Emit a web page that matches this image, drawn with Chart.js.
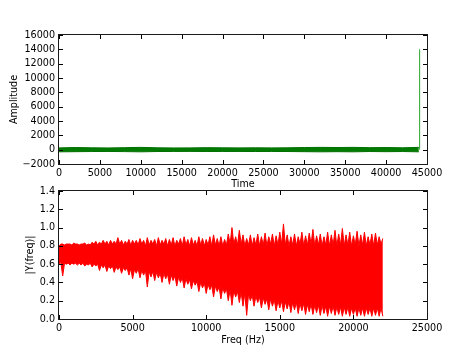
<!DOCTYPE html>
<html>
<head>
<meta charset="utf-8">
<script src="https://cdn.jsdelivr.net/npm/chart.js@4/dist/chart.umd.min.js"></script>
<style>
  html, body { margin: 0; padding: 0; background: #fff; }
  #wrap { position: relative; width: 474px; height: 355px; overflow: hidden; }
  canvas { position: absolute; left: 0; }
  #top { top: 0; }
  #bot { top: 175px; }
</style>
</head>
<body>
<div id="wrap">
  <canvas id="top" width="474" height="190"></canvas>
  <canvas id="bot" width="474" height="180"></canvas>
</div>
<script>
// ---------- Data ----------
// Top: time-domain signal (dense noise band around 0, spike at end)
const timeSamples = [0, 2000, 4000, 6000, 8000, 10000, 12000, 14000, 16000, 18000, 20000, 22000,
  24000, 26000, 28000, 30000, 32000, 34000, 36000, 38000, 40000, 42000, 44000];
const ampHigh = [250, 300, 260, 240, 280, 320, 260, 240, 250, 280, 260, 250,
  260, 250, 260, 300, 320, 300, 320, 280, 300, 260, 320];
const ampLow = [-300, -280, -260, -250, -270, -300, -260, -250, -240, -260, -250, -250,
  -260, -250, -260, -280, -300, -280, -300, -260, -280, -260, -300];
const spikeTime = [44100, 44100];
const spikeAmp = [0, 14000];

// Bottom: magnitude spectrum envelope (upper / lower) of the dense red trace
const freqs = [0, 125, 250, 375, 500, 625, 750, 875, 1000, 1125, 1250, 1375, 1500, 1625, 1750, 1875,
  2000, 2125, 2250, 2375, 2500, 2625, 2750, 2875, 3000, 3125, 3250, 3375, 3500, 3625, 3750, 3875,
  4000, 4125, 4250, 4375, 4500, 4625, 4750, 4875, 5000, 5125, 5250, 5375, 5500, 5625, 5750, 5875,
  6000, 6125, 6250, 6375, 6500, 6625, 6750, 6875, 7000, 7125, 7250, 7375, 7500, 7625, 7750, 7875,
  8000, 8125, 8250, 8375, 8500, 8625, 8750, 8875, 9000, 9125, 9250, 9375, 9500, 9625, 9750, 9875,
  10000, 10125, 10250, 10375, 10500, 10625, 10750, 10875, 11000, 11125, 11250, 11375, 11500, 11625, 11750, 11875,
  12000, 12125, 12250, 12375, 12500, 12625, 12750, 12875, 13000, 13125, 13250, 13375, 13500, 13625, 13750, 13875,
  14000, 14125, 14250, 14375, 14500, 14625, 14750, 14875, 15000, 15125, 15250, 15375, 15500, 15625, 15750, 15875,
  16000, 16125, 16250, 16375, 16500, 16625, 16750, 16875, 17000, 17125, 17250, 17375, 17500, 17625, 17750, 17875,
  18000, 18125, 18250, 18375, 18500, 18625, 18750, 18875, 19000, 19125, 19250, 19375, 19500, 19625, 19750, 19875,
  20000, 20125, 20250, 20375, 20500, 20625, 20750, 20875, 21000, 21125, 21250, 21375, 21500, 21625, 21750, 21875,
  22000];
const magUpper = [0.80, 0.82, 0.82, 0.81, 0.82, 0.82, 0.82, 0.81, 0.83, 0.82, 0.82, 0.81, 0.82, 0.82, 0.83, 0.81,
  0.82, 0.81, 0.84, 0.82, 0.85, 0.81, 0.84, 0.82, 0.86, 0.82, 0.85, 0.81, 0.86, 0.82, 0.85, 0.82,
  0.89, 0.82, 0.86, 0.81, 0.85, 0.82, 0.87, 0.81, 0.86, 0.82, 0.86, 0.81, 0.88, 0.82, 0.86, 0.80,
  0.89, 0.81, 0.86, 0.82, 0.87, 0.80, 0.89, 0.81, 0.86, 0.82, 0.88, 0.80, 0.87, 0.81, 0.89, 0.80,
  0.86, 0.82, 0.88, 0.80, 0.90, 0.81, 0.87, 0.80, 0.89, 0.81, 0.86, 0.80, 0.90, 0.81, 0.88, 0.80,
  0.87, 0.81, 0.90, 0.80, 0.92, 0.81, 0.88, 0.80, 0.90, 0.80, 0.87, 0.81, 0.93, 0.82, 1.00, 0.82,
  0.90, 0.81, 0.97, 0.82, 0.92, 0.80, 0.88, 0.81, 0.92, 0.80, 0.89, 0.81, 0.93, 0.80, 0.90, 0.81,
  0.94, 0.80, 0.90, 0.82, 0.93, 0.80, 0.91, 0.81, 0.95, 0.82, 1.04, 0.81, 0.92, 0.80, 0.90, 0.81,
  0.93, 0.80, 0.90, 0.82, 0.95, 0.80, 0.91, 0.81, 0.94, 0.82, 0.98, 0.80, 0.91, 0.81, 0.93, 0.80,
  0.90, 0.81, 0.95, 0.80, 0.92, 0.81, 0.97, 0.80, 0.93, 0.81, 0.99, 0.80, 0.92, 0.81, 0.95, 0.80,
  0.91, 0.81, 0.96, 0.80, 0.92, 0.81, 0.95, 0.80, 0.90, 0.81, 0.93, 0.80, 0.94, 0.81, 0.90, 0.82,
  0.88];
const magLower = [0.60, 0.62, 0.47, 0.61, 0.60, 0.61, 0.59, 0.61, 0.60, 0.61, 0.59, 0.61, 0.59, 0.61, 0.58, 0.60,
  0.59, 0.61, 0.57, 0.60, 0.58, 0.60, 0.53, 0.59, 0.56, 0.59, 0.52, 0.58, 0.55, 0.58, 0.51, 0.57,
  0.54, 0.57, 0.50, 0.56, 0.53, 0.56, 0.48, 0.55, 0.44, 0.54, 0.50, 0.55, 0.45, 0.53, 0.48, 0.53,
  0.35, 0.52, 0.46, 0.52, 0.42, 0.51, 0.45, 0.50, 0.40, 0.50, 0.44, 0.49, 0.38, 0.48, 0.42, 0.47,
  0.36, 0.46, 0.40, 0.45, 0.34, 0.44, 0.38, 0.43, 0.33, 0.42, 0.37, 0.41, 0.30, 0.40, 0.34, 0.39,
  0.28, 0.38, 0.32, 0.37, 0.24, 0.36, 0.30, 0.35, 0.22, 0.34, 0.28, 0.33, 0.20, 0.32, 0.15, 0.31,
  0.24, 0.30, 0.18, 0.29, 0.14, 0.28, 0.04, 0.27, 0.20, 0.26, 0.14, 0.25, 0.18, 0.24, 0.12, 0.23,
  0.16, 0.22, 0.10, 0.22, 0.14, 0.21, 0.09, 0.20, 0.12, 0.20, 0.08, 0.19, 0.11, 0.19, 0.07, 0.18,
  0.10, 0.18, 0.06, 0.17, 0.09, 0.17, 0.05, 0.16, 0.08, 0.16, 0.05, 0.15, 0.07, 0.15, 0.04, 0.15,
  0.06, 0.14, 0.03, 0.14, 0.06, 0.14, 0.04, 0.13, 0.05, 0.13, 0.03, 0.13, 0.05, 0.13, 0.03, 0.12,
  0.05, 0.12, 0.03, 0.12, 0.04, 0.12, 0.03, 0.12, 0.05, 0.12, 0.03, 0.12, 0.04, 0.12, 0.03, 0.12,
  0.03];

// Tick definitions
const topXTicks = { min: 0, max: 45000, step: 5000 };
const topYTicks = { min: -2000, max: 16000, step: 2000 };
const botXTicks = { min: 0, max: 25000, step: 5000 };
const botYTicks = { min: 0, max: 1.4, step: 0.2 };

// ---------- Rendering ----------
const FONT = "'DejaVu Sans', sans-serif";
const FS = 9.6;
const pts = (xs, ys) => xs.map((x, i) => ({ x, y: ys[i] }));

const frameTicks = {
  id: 'frameTicks',
  afterDraw(chart) {
    const { ctx, chartArea: a, scales } = chart;
    const L = Math.round(a.left), R = Math.round(a.right);
    const T = Math.round(a.top), B = Math.round(a.bottom);
    ctx.save();
    ctx.fillStyle = '#000';
    scales.x.ticks.forEach(t => {
      const p = Math.round(scales.x.getPixelForValue(t.value));
      ctx.fillRect(p, B - 4, 1, 4);
      ctx.fillRect(p, T, 1, 4);
    });
    scales.y.ticks.forEach(t => {
      const p = Math.round(scales.y.getPixelForValue(t.value));
      ctx.fillRect(L, p, 4, 1);
      ctx.fillRect(R - 4, p, 4, 1);
    });
    ctx.fillStyle = '#1a1a1a';
    ctx.fillRect(L - 1, T - 1, R - L + 2, 1);
    ctx.fillRect(L - 1, B, R - L + 2, 1);
    ctx.fillRect(L - 1, T - 1, 1, B - T + 2);
    ctx.fillRect(R, T - 1, 1, B - T + 2);
    ctx.restore();
  }
};

const minus = s => String(s).replace('-', '\u2212');

function axisCommon(t, title, titlePad, fitProp, fitVal, fmt) {
  return {
    type: 'linear',
    min: t.min, max: t.max,
    grid: { display: false, drawTicks: false },
    border: { display: false },
    ticks: {
      stepSize: t.step, autoSkip: false, maxRotation: 0,
      color: '#000', padding: 4,
      font: { family: FONT, size: FS },
      callback: fmt
    },
    title: { display: true, text: title, color: '#000', padding: titlePad, font: { family: FONT, size: FS } },
    afterFit(s) { s[fitProp] = fitVal; }
  };
}

Chart.defaults.animation = false;

new Chart(document.getElementById('top'), {
  type: 'line',
  data: {
    datasets: [
      { data: pts(timeSamples, ampLow), borderColor: '#007000', borderWidth: 1, pointRadius: 0, fill: false },
      { data: pts(timeSamples, ampHigh), borderColor: '#007000', backgroundColor: '#007a00', borderWidth: 1, pointRadius: 0, fill: '-1' },
      { data: pts(spikeTime, spikeAmp), borderColor: '#2aa52a', borderWidth: 1, pointRadius: 0, fill: false }
    ]
  },
  options: {
    responsive: false, devicePixelRatio: 1,
    layout: { padding: { left: 0, right: 47, top: 35, bottom: 0 } },
    plugins: { legend: { display: false }, tooltip: { enabled: false } },
    scales: {
      x: axisCommon(topXTicks, 'Time', { top: 0, bottom: 0 }, 'height', 26, v => String(v)),
      y: axisCommon(topYTicks, 'Amplitude', { top: 9, bottom: 0 }, 'width', 59, v => minus(v))
    }
  },
  plugins: [frameTicks]
});

new Chart(document.getElementById('bot'), {
  type: 'line',
  data: {
    datasets: [
      { data: pts(freqs, magLower), borderColor: '#ff0000', borderWidth: 1, pointRadius: 0, fill: false },
      { data: pts(freqs, magUpper), borderColor: '#ff0000', backgroundColor: '#ff0000', borderWidth: 1, pointRadius: 0, fill: '-1' }
    ]
  },
  options: {
    responsive: false, devicePixelRatio: 1,
    layout: { padding: { left: 0, right: 47, top: 16, bottom: 9 } },
    plugins: { legend: { display: false }, tooltip: { enabled: false } },
    scales: {
      x: axisCommon(botXTicks, 'Freq (Hz)', { top: 0, bottom: 0 }, 'height', 27, v => String(v)),
      y: axisCommon(botYTicks, '|Y(freq)|', { top: 25, bottom: 0 }, 'width', 59, v => Number(v).toFixed(1))
    }
  },
  plugins: [frameTicks]
});
</script>
</body>
</html>
